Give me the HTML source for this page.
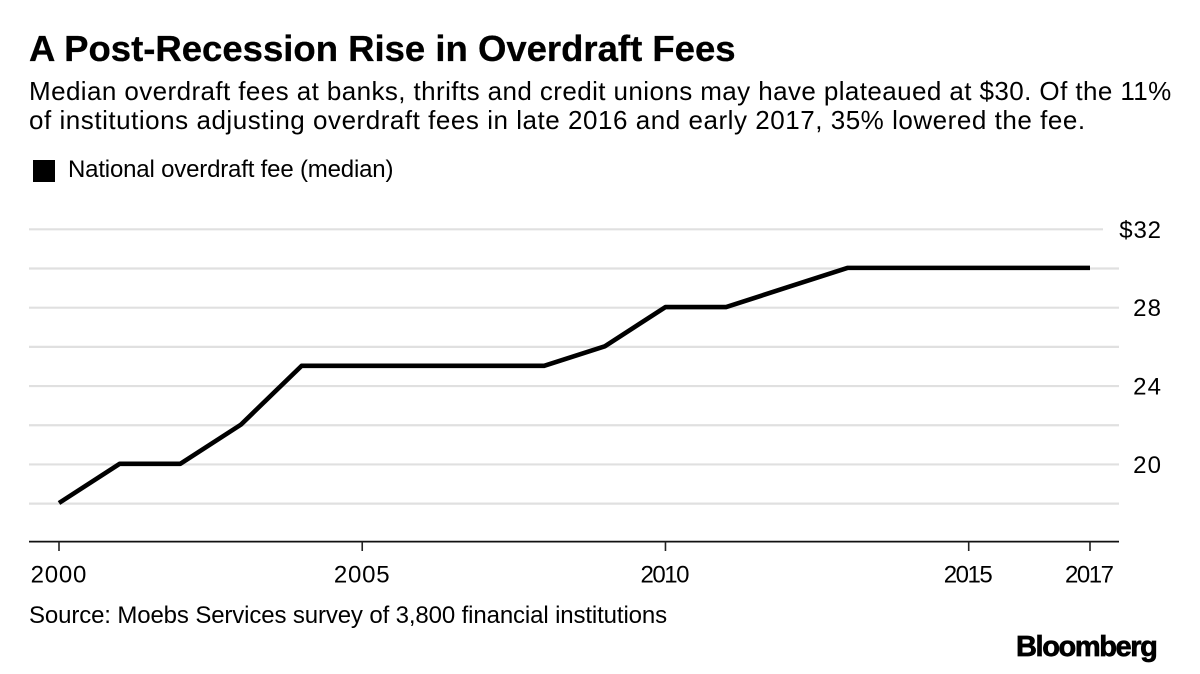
<!DOCTYPE html>
<html>
<head>
<meta charset="utf-8">
<style>
html,body{margin:0;padding:0;background:#fff;}
body{width:1200px;height:674px;overflow:hidden;position:relative;font-family:"Liberation Sans",sans-serif;color:#000;}
.t{position:absolute;white-space:nowrap;}
svg{position:absolute;left:0;top:0;}
svg text{font-family:"Liberation Sans",sans-serif;fill:#000;}
</style>
</head>
<body>
<div class="t" style="left:29px;top:27px;font-size:36.5px;font-weight:700;line-height:44px;-webkit-text-stroke:0.3px #000;">A Post-Recession Rise in Overdraft Fees</div>
<div class="t" style="left:29px;top:75px;font-size:26px;line-height:32px;letter-spacing:0.41px;">Median overdraft fees at banks, thrifts and credit unions may have plateaued at $30. Of the 11%</div>
<div class="t" style="left:29px;top:104px;font-size:26px;line-height:32px;letter-spacing:0.53px;">of institutions adjusting overdraft fees in late 2016 and early 2017, 35% lowered the fee.</div>
<div style="position:absolute;left:32.5px;top:159.5px;width:22.5px;height:22px;background:#000;"></div>
<div class="t" style="left:68px;top:156px;font-size:24px;line-height:28px;letter-spacing:-0.18px;">National overdraft fee (median)</div>
<svg id="chart" width="1200" height="674" viewBox="0 0 1200 674"></svg>
<div class="t" style="left:29px;top:602px;font-size:24px;line-height:28px;letter-spacing:-0.126px;">Source: Moebs Services survey of 3,800 financial institutions</div>
<div class="t" style="left:1016px;top:628.7px;font-size:29px;font-weight:700;line-height:36px;letter-spacing:-1.4px;-webkit-text-stroke:0.7px #000;">Bloomberg</div>
<script>
const years = [2000,2001,2002,2003,2004,2005,2006,2007,2008,2009,2010,2011,2012,2013,2014,2015,2016,2017];
const fees = [18,20,20,22,25,25,25,25,25,26,28,28,29,30,30,30,30,30];
const yGridValues = [18,20,22,24,26,28,30,32];
const yTickValues = [20,24,28,32];
const yTickLabels = ["20","24","28","$32"];
const xTickValues = [2000,2005,2010,2015,2017];
const xTickLabels = ["2000","2005","2010","2015","2017"];

const svg = document.getElementById('chart');
const NS = 'http://www.w3.org/2000/svg';
const xScale = v => 59 + (v - 2000) * (1090 - 59) / 17;
const yScale = v => 503.6 - (v - 18) * (503.6 - 229.3) / 14;
const labelFontSize = 24;
const labelWidth = s => s.split('').reduce((w, c) => w + (c === '1' ? 0.3 : 0.58), 0) * labelFontSize;
function make(tag, attrs, parent){
  const el = document.createElementNS(NS, tag);
  for (const k in attrs) el.setAttribute(k, attrs[k]);
  (parent || svg).appendChild(el);
  return el;
}
const topGridValue = Math.max(...yGridValues);
yGridValues.forEach(v => {
  const g = make('line', {x1:29, x2:v === topGridValue ? 1103 : 1119, y1:yScale(v), y2:yScale(v), stroke:'#e0e0e0', 'stroke-width':2.2});
  
  
});
yTickValues.forEach((v, i) => {
  const t = make('text', {x:1161, y:yScale(v) + 8.5, 'text-anchor':'end', 'font-size':labelFontSize, textLength:labelWidth(yTickLabels[i]), lengthAdjust:'spacing'});
  t.textContent = yTickLabels[i];
  
  
});
const axis = make('line', {x1:29, x2:1119, y1:541.6, y2:541.6, stroke:'#111', 'stroke-width':1.8});


xTickValues.forEach((v, i) => {
  const tick = make('line', {x1:xScale(v), x2:xScale(v), y1:541.6, y2:551, stroke:'#222', 'stroke-width':1.6});
  
  
  const t = make('text', {x:xScale(v) - 0.5, y:582.5, 'text-anchor':'middle', 'font-size':labelFontSize, textLength:labelWidth(xTickLabels[i]), lengthAdjust:'spacing'});
  t.textContent = xTickLabels[i];
  
  
});
const points = years.map((y, i) => xScale(y) + ',' + (yScale(fees[i]) - 0.6)).join(' ');
const line = make('polyline', {points:points, fill:'none', stroke:'#000', 'stroke-width':4.6, 'stroke-linejoin':'round'});


</script>
</body>
</html>
